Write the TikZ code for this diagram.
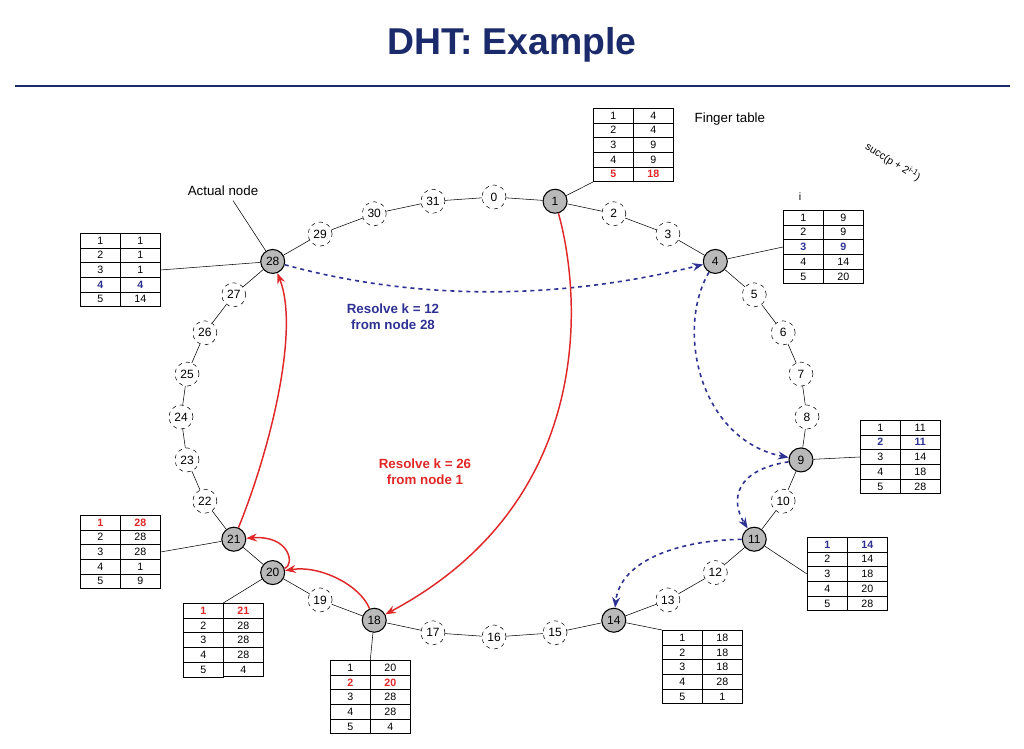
\documentclass[tikz,border=0pt]{standalone}
\usepackage{fontspec}
\setmainfont{Liberation Sans}
\usetikzlibrary{matrix,arrows.meta}
\definecolor{navy}{HTML}{1B2A6B}
\definecolor{ablue}{HTML}{2E3192}
\definecolor{ared}{HTML}{E02828}
\tikzset{
 small/.style={circle,draw,dashed,fill=white,minimum size=18pt,inner sep=0,font=\small},
 actual/.style={circle,draw,thick,fill=gray!55,minimum size=18pt,inner sep=0,font=\small},
 ftab/.style={matrix of nodes,anchor=north west,inner sep=0,outer sep=0,column sep=-0.4pt,row sep=-0.4pt,
   nodes={draw,minimum width=30pt,minimum height=11pt,inner sep=0,font=\footnotesize}},
 rb/.style={text=ared,font=\footnotesize\bfseries},
 bb/.style={text=ablue,font=\footnotesize\bfseries},
 barr/.style={-{Stealth[length=8pt]},ablue,very thick,dashed},
 rarr/.style={-{Stealth[length=8pt]},ared,semithick,line width=1.1pt},
}
\begin{document}
\begin{tikzpicture}[x=0.75pt,y=-0.75pt]
\useasboundingbox (0,0) rectangle (1024,749);
\node[font=\fontsize{28}{32}\selectfont\bfseries,text=navy] (title) at (512,45) {DHT:\ Example};
\draw[navy,line width=2pt] (15,86) -- (1010,86);
\foreach \k in {0,...,31}{
  \pgfmathsetmacro\xx{494+313*cos(90-11.25*\k)}
  \pgfmathsetmacro\yy{417-220*sin(90-11.25*\k)}
  \ifnum\k=1 \def\st{actual}\else\ifnum\k=4 \def\st{actual}\else\ifnum\k=9 \def\st{actual}\else
  \ifnum\k=11 \def\st{actual}\else\ifnum\k=14 \def\st{actual}\else\ifnum\k=18 \def\st{actual}\else
  \ifnum\k=20 \def\st{actual}\else\ifnum\k=21 \def\st{actual}\else\ifnum\k=28 \def\st{actual}\else
  \def\st{small}\fi\fi\fi\fi\fi\fi\fi\fi\fi
  \node[\st] (n\k) at (\xx,\yy) {\k};
}
\foreach \k in {0,...,31}{
  \pgfmathtruncatemacro\nx{mod(\k+1,32)}
  \draw (n\k) -- (n\nx);
}
% tables
\matrix (t1) [ftab] at (593,108) {1&4\\2&4\\3&9\\4&9\\|[rb]|5&|[rb]|18\\};
\matrix (t4) [ftab] at (783,210) {1&9\\2&9\\|[bb]|3&|[bb]|9\\4&14\\5&20\\};
\matrix (t9) [ftab] at (860,420) {1&11\\|[bb]|2&|[bb]|11\\3&14\\4&18\\5&28\\};
\matrix (t11) [ftab] at (807,537) {|[bb]|1&|[bb]|14\\2&14\\3&18\\4&20\\5&28\\};
\matrix (t14) [ftab] at (662,630) {1&18\\2&18\\3&18\\4&28\\5&1\\};
\matrix (t18) [ftab] at (330,660) {1&20\\|[rb]|2&|[rb]|20\\3&28\\4&28\\5&4\\};
\matrix (t20) [ftab] at (183,603) {|[rb]|1&|[rb]|21\\2&28\\3&28\\4&28\\5&4\\};
\matrix (t21) [ftab] at (80,515) {|[rb]|1&|[rb]|28\\2&28\\3&28\\4&1\\5&9\\};
\matrix (t28) [ftab] at (80,233) {1&1\\2&1\\3&1\\|[bb]|4&|[bb]|4\\5&14\\};
\draw (n1) -- (t1.south west);
\draw (n4) -- (t4.west);
\draw (n9) -- (t9.west);
\draw (n11) -- (t11.west);
\draw (n14) -- (t14.north west);
\draw (n18) -- (t18.north);
\draw (n20) -- (t20.north);
\draw (n21) -- (t21.east);
\draw (n28) -- (t28.east);
\node[anchor=west,font=\normalsize] (ft) at (690,119) {Finger table};
\node[font=\footnotesize] (hi) at (800,197) {i};
\node[font=\footnotesize,rotate=-32] (hs) at (893,162) {succ(p + 2\textsuperscript{i-1})};
\node[font=\normalsize] (an) at (223,191) {Actual node};
\draw (an.south) ++(10,0) coordinate (anc) -- (n28);
% arrows
\draw[barr] (n28) .. controls (450,310) and (600,290) .. (n4);
\draw[barr] (n4) .. controls (675,330) and (700,440) .. (n9);
\draw[barr] (n9) .. controls (735,470) and (730,500) .. (n11);
\draw[barr] (n11) .. controls (680,540) and (620,560) .. (n14);
\draw[rarr] (n1) .. controls (580,290) and (600,500) .. (n18);
\draw[rarr] (n21) .. controls (270,450) and (300,330) .. (n28);
\draw[rarr] (n20) .. controls (295,565) and (290,535) .. (n21);
\draw[rarr] (n18) .. controls (360,585) and (320,565) .. (n20);
\node[text=ablue,font=\normalsize\bfseries,align=center] (l1) at (393,317) {Resolve k = 12\\from node 28};
\node[text=ared,font=\normalsize\bfseries,align=center] (l2) at (425,472) {Resolve k = 26\\from node 1};
\end{tikzpicture}
\end{document}
